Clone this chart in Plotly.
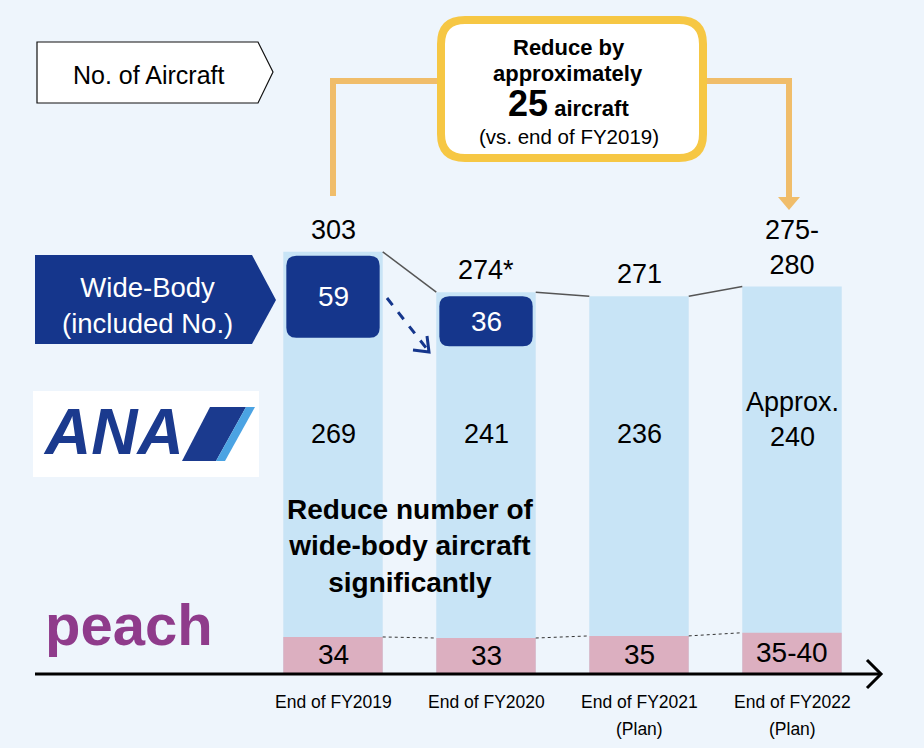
import plotly.graph_objects as go

# ---------------- data ----------------
categories = ["End of FY2019", "End of FY2020", "End of FY2021<br>(Plan)", "End of FY2022<br>(Plan)"]
total_values = [303, 274, 271, 278]          # FY2022 plan drawn within the 275-280 range
total_labels = ["303", "274*", "271", "275-<br>280"]
ana_values = [269, 241, 236, 240]
ana_labels = ["269", "241", "236", "Approx.<br>240"]
peach_values = [34, 33, 35, 38]              # FY2022 plan drawn within the 35-40 range
peach_labels = ["34", "33", "35", "35-40"]
widebody_values = [59, 36]
widebody_labels = ["59", "36"]

# ---------------- style / geometry ----------------
W, H = 924, 748
X0_PX, DX_PX = 333, 153          # pixel centre of first bar, pixel step between bars
Y0_PX = 673                      # pixel of value 0
PXU, PXU2 = 1.39, 1.06           # px per unit on y (totals) and y2 (peach)
BAR_W = 0.65
BOX_W = 0.61

BG = "#EEF5FC"
LIGHT = "#C8E4F6"
PINK = "#DCAFC0"
NAVY = "#15368C"
YELLOW = "#F6C744"
ORANGE = "#F0BD6A"
PURPLE = "#8F3B8B"
FONT = "Liberation Sans, Arial, sans-serif"

xpos = list(range(len(categories)))


def px(x):
    return x / W


def py(y):
    return 1 - y / H


def rounded_path(x0, y0, x1, y1, rx, ry):
    return (f"M {x0+rx},{y0} L {x1-rx},{y0} Q {x1},{y0} {x1},{y0+ry} "
            f"L {x1},{y1-ry} Q {x1},{y1} {x1-rx},{y1} L {x0+rx},{y1} "
            f"Q {x0},{y1} {x0},{y1-ry} L {x0},{y0+ry} Q {x0},{y0} {x0+rx},{y0} Z")


def rrect_px(x0, y0, x1, y1, r):
    return rounded_path(px(x0), py(y1), px(x1), py(y0), r / W, r / H)


def poly_px(pts, close=True):
    s = "M " + " L ".join(f"{px(a)},{py(b)}" for a, b in pts)
    return s + (" Z" if close else "")


fig = go.Figure()

fig.add_trace(go.Bar(x=xpos, y=total_values, width=BAR_W, marker=dict(color=LIGHT, line=dict(width=0)),
                     hoverinfo="skip", yaxis="y"))
fig.add_trace(go.Bar(x=xpos, y=peach_values, width=BAR_W, marker=dict(color=PINK, line=dict(width=0)),
                     hoverinfo="skip", yaxis="y2"))

shapes = []
annotations = []

# orange bracket + arrow (decoration)
shapes.append(dict(type="path", xref="paper", yref="paper",
                   path=poly_px([(333, 196), (333, 81), (445, 81)], close=False),
                   line=dict(color=ORANGE, width=6)))
shapes.append(dict(type="path", xref="paper", yref="paper",
                   path=poly_px([(700, 81), (789, 81), (789, 198)], close=False),
                   line=dict(color=ORANGE, width=6)))
shapes.append(dict(type="path", xref="paper", yref="paper",
                   path=poly_px([(778, 197), (800, 197), (789, 210)]),
                   fillcolor=ORANGE, line=dict(width=0)))
# yellow box
shapes.append(dict(type="path", xref="paper", yref="paper",
                   path=rrect_px(441, 20, 703, 158, 24),
                   fillcolor="white", line=dict(color=YELLOW, width=8)))
# "No. of Aircraft" tag
shapes.append(dict(type="path", xref="paper", yref="paper",
                   path=poly_px([(37, 42), (258, 42), (273, 72), (258, 103), (37, 103)]),
                   fillcolor="white", line=dict(color="#111111", width=1.2)))
# "Wide-Body" tag
shapes.append(dict(type="path", xref="paper", yref="paper",
                   path=poly_px([(35, 255), (252, 255), (276, 300), (252, 344), (35, 344)]),
                   fillcolor=NAVY, line=dict(width=0)))
# ANA logo
shapes.append(dict(type="rect", xref="paper", yref="paper",
                   x0=px(33), x1=px(259), y0=py(477), y1=py(391),
                   fillcolor="white", line=dict(width=0)))
shapes.append(dict(type="path", xref="paper", yref="paper",
                   path=poly_px([(182, 461), (216, 461), (246, 407), (210, 407)]),
                   fillcolor="#1B3A8E", line=dict(width=0)))
shapes.append(dict(type="path", xref="paper", yref="paper",
                   path=poly_px([(216, 461), (225, 461), (255, 407), (246, 407)]),
                   fillcolor="#4BA3E3", line=dict(width=0)))

# connecting lines between bar tops
for i in range(len(xpos) - 1):
    shapes.append(dict(type="line", xref="x", yref="y",
                       x0=xpos[i] + BAR_W / 2, y0=total_values[i],
                       x1=xpos[i + 1] - BAR_W / 2, y1=total_values[i + 1],
                       line=dict(color="#555555", width=1.5)))
    shapes.append(dict(type="line", xref="x", yref="y2",
                       x0=xpos[i] + BAR_W / 2, y0=peach_values[i],
                       x1=xpos[i + 1] - BAR_W / 2, y1=peach_values[i + 1],
                       line=dict(color="#333333", width=1, dash="dot")))

# wide-body boxes
rx = 10 / DX_PX
ry = 10 / PXU
gap = 4 / PXU
for i, v in enumerate(widebody_values):
    top = total_values[i] - gap
    bot = top - v
    shapes.append(dict(type="path", xref="x", yref="y",
                       path=rounded_path(xpos[i] - BOX_W / 2, bot, xpos[i] + BOX_W / 2, top, rx, ry),
                       fillcolor=NAVY, line=dict(width=0)))
    annotations.append(dict(x=xpos[i], y=(top + bot) / 2, xref="x", yref="y", text=widebody_labels[i],
                            showarrow=False, font=dict(family=FONT, size=28, color="white")))

# dashed arrow
shapes.append(dict(type="line", xref="paper", yref="paper",
                   x0=px(387), y0=py(298), x1=px(427), y1=py(349),
                   line=dict(color=NAVY, width=3, dash="dash")))
shapes.append(dict(type="path", xref="paper", yref="paper",
                   path=poly_px([(413, 350), (429, 352), (427, 336)], close=False),
                   line=dict(color=NAVY, width=3)))

# axis with arrow
shapes.append(dict(type="line", xref="paper", yref="paper",
                   x0=px(35), y0=py(674), x1=px(879), y1=py(674),
                   line=dict(color="black", width=3)))
shapes.append(dict(type="path", xref="paper", yref="paper",
                   path=poly_px([(867, 660), (881, 674), (867, 688)], close=False),
                   line=dict(color="black", width=3)))


def ann_px(text, x, y, size, color="black", bold=False, italic=False):
    t = f"<b>{text}</b>" if bold else text
    if italic:
        t = f"<i>{t}</i>"
    annotations.append(dict(x=px(x), y=py(y), xref="paper", yref="paper", text=t, showarrow=False,
                            xanchor="center", yanchor="middle",
                            font=dict(family=FONT, size=size, color=color)))


ann_px("No. of Aircraft", 148, 75, 25)
ann_px("Wide-Body<br>(included No.)", 147, 305, 27.5, color="white")
ann_px("Reduce by", 569, 47, 22, bold=True)
ann_px("approximately", 568, 73, 22, bold=True)
ann_px("<span style='font-size:36px'>25</span> aircraft", 568, 103, 22, bold=True)
ann_px("(vs. end of FY2019)", 569, 136, 20.5)
ann_px("Reduce number of<br>wide-body aircraft<br>significantly", 410, 546, 28, bold=True)
ann_px("ANA", 113, 432, 64, color="#1B3A8E", bold=True, italic=True)
ann_px("peach", 129, 624, 58, color=PURPLE, bold=True)

# value labels
for i in xpos:
    annotations.append(dict(x=i, y=total_values[i], xref="x", yref="y", text=total_labels[i],
                            showarrow=False, yanchor="bottom", yshift=5,
                            font=dict(family=FONT, size=27, color="black")))
    annotations.append(dict(x=i, y=py(434) if i < 3 else py(419), xref="x", yref="paper", text=ana_labels[i],
                            showarrow=False, yanchor="middle",
                            font=dict(family=FONT, size=27, color="black")))
    annotations.append(dict(x=i, y=peach_values[i] / 2, xref="x", yref="y2", text=peach_labels[i],
                            showarrow=False, yanchor="middle",
                            font=dict(family=FONT, size=28, color="black")))
    for j, line in enumerate(categories[i].split("<br>")):
        annotations.append(dict(x=i, y=py(702 + 27 * j), xref="x", yref="paper", text=line,
                                showarrow=False, yanchor="middle",
                                font=dict(family=FONT, size=17.5, color="black")))

fig.update_layout(
    width=W, height=H, margin=dict(l=0, r=0, t=0, b=0),
    paper_bgcolor=BG, plot_bgcolor=BG, showlegend=False, barmode="overlay",
    xaxis=dict(visible=False, range=[-X0_PX / DX_PX, (W - X0_PX) / DX_PX]),
    yaxis=dict(visible=False, range=[-(H - Y0_PX) / PXU, Y0_PX / PXU]),
    yaxis2=dict(visible=False, overlaying="y", range=[-(H - Y0_PX) / PXU2, Y0_PX / PXU2]),
    shapes=shapes, annotations=annotations,
)

fig.write_html("out.html", config={"displayModeBar": False},
               post_script="document.body.style.margin='0';document.body.style.background='#EEF5FC';"
                           "document.body.style.overflow='hidden';")
